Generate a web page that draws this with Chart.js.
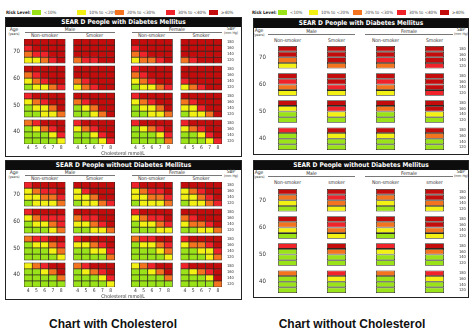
<!DOCTYPE html>
<html>
<head>
<meta charset="utf-8">
<title>SEAR D risk charts</title>
<script src="https://cdn.jsdelivr.net/npm/chart.js@4.4.1/dist/chart.umd.min.js"></script>
<style>
  html, body { margin: 0; padding: 0; background: #fff; }
  body {
    position: relative; width: 474px; height: 335px; overflow: hidden;
    font-family: "Liberation Sans Narrow", "DejaVu Sans Condensed", "Liberation Sans", Arial, sans-serif;
    color: #333;
  }
  .box { position: absolute; border: 1px solid #222; box-sizing: border-box; }
  .hdr {
    position: absolute; left: 0; right: 0; top: 0; height: 9px; background: #0d0d0d; color: #fff;
    font-weight: bold; font-size: 6.5px; line-height: 9px; text-align: center; white-space: nowrap;
  }
  .lbl { position: absolute; font-size: 5px; line-height: 5px; white-space: nowrap; text-align: center; }
  .sex {
    position: absolute; height: 5px; border-bottom: 1px solid #777; font-size: 5px; line-height: 5px;
    text-align: center; white-space: nowrap;
  }
  .legend { position: absolute; font-size: 4.5px; line-height: 7px; white-space: nowrap; color: #444; }
  .sw { position: absolute; height: 5px; }
  .cap {
    position: absolute; top: 317px; font-family: "Liberation Sans", Arial, sans-serif; font-weight: bold;
    font-size: 12px; color: #111; white-space: nowrap; transform: translateX(-50%);
  }
  canvas { position: absolute; }
</style>
</head>
<body>
<div class="cap" style="left:113px">Chart with Cholesterol</div>
<div class="cap" style="left:352px">Chart without Cholesterol</div>
<script>
// Datos
const ageGroups = ["70", "60", "50", "40"];
const sbpLevels = ["180", "160", "140", "120"];
const cholesterolLevels = ["4", "5", "6", "7", "8"];
const sexes = ["Male", "Female"];
const riskLevels = ["<10%", "10% to <20%", "20% to <30%", "30% to <40%", "\u226540%"];
const riskColors = ["#9be319", "#f3f014", "#f3731f", "#f0232a", "#c40c0c"];

// Con colesterol: por edad (70..40), filas PAS 180..120, un dígito por columna de colesterol = nivel de riesgo
const cholDiabMaleNonSmoker = [
  ["44444", "34444", "23344", "11234"],
  ["44444", "23444", "12344", "01123"],
  ["34444", "12344", "01124", "00112"],
  ["23444", "01234", "00013", "00001"],
];
const cholDiabMaleSmoker = [
  ["44444", "44444", "44444", "23344"],
  ["44444", "44444", "23444", "12344"],
  ["44444", "23444", "01244", "00124"],
  ["34444", "12344", "00134", "00013"],
];
const cholDiabFemaleNonSmoker = [
  ["44444", "34444", "23444", "12234"],
  ["34444", "23444", "12344", "01123"],
  ["34444", "12344", "01124", "00112"],
  ["34444", "01234", "00013", "00002"],
];
const cholDiabFemaleSmoker = [
  ["44444", "44444", "44444", "23444"],
  ["44444", "44444", "34444", "12344"],
  ["44444", "23444", "11344", "01124"],
  ["34444", "12344", "00134", "00013"],
];
const cholNoDiabMaleNonSmoker = [
  ["34444", "12334", "11223", "01112"],
  ["34444", "12333", "01123", "00012"],
  ["23344", "01123", "00012", "00001"],
  ["12344", "00124", "00002", "00000"],
];
const cholNoDiabMaleSmoker = [
  ["44444", "13444", "11244", "01123"],
  ["44444", "23344", "11234", "00112"],
  ["34444", "11234", "00113", "00002"],
  ["23444", "01234", "00013", "00001"],
];
const cholNoDiabFemaleNonSmoker = [
  ["34444", "12334", "11223", "01112"],
  ["34444", "12334", "01123", "00011"],
  ["23344", "01123", "00012", "00001"],
  ["12344", "00124", "00002", "00000"],
];
const cholNoDiabFemaleSmoker = [
  ["44444", "12344", "11234", "01123"],
  ["44444", "23444", "12234", "00112"],
  ["34444", "12234", "00113", "00012"],
  ["34444", "01234", "00014", "00002"],
];

// Sin colesterol: por edad (70..40), un dígito por fila de PAS (180..120)
const diabMaleNonSmoker = [["4421"], ["4321"], ["4100"], ["3000"]];
const diabMaleSmoker = [["4442"], ["4431"], ["4310"], ["4100"]];
const diabFemaleNonSmoker = [["4432"], ["4321"], ["4200"], ["4100"]];
const diabFemaleSmoker = [["4443"], ["4443"], ["4410"], ["4200"]];
const noDiabMaleNonSmoker = [["4210"], ["4210"], ["3000"], ["2000"]];
const noDiabMaleSmoker = [["4321"], ["4321"], ["4200"], ["3100"]];
const noDiabFemaleNonSmoker = [["4210"], ["4210"], ["3100"], ["2000"]];
const noDiabFemaleSmoker = [["4421"], ["4421"], ["4200"], ["3100"]];

const FONT = "'Liberation Sans Narrow', 'DejaVu Sans Condensed', 'Liberation Sans', sans-serif";

function addDiv(cls, x, y, w, text, extra) {
  const d = document.createElement("div");
  d.className = cls;
  d.style.left = x + "px";
  d.style.top = y + "px";
  if (w) d.style.width = w + "px";
  if (text) d.textContent = text;
  if (extra) Object.assign(d.style, extra);
  document.body.appendChild(d);
  return d;
}

function buildLegend(x0, swatchX) {
  addDiv("legend", x0, 9, 0, "Risk Level:", { fontWeight: "bold", color: "#222" });
  riskLevels.forEach((lvl, i) => {
    addDiv("sw", swatchX[i], 10, 9, "", { background: riskColors[i] });
    addDiv("legend", swatchX[i] + 12, 9, 0, lvl);
  });
}

function buildPanel(p) {
  const box = addDiv("box", p.x, p.y, p.w, "", { height: p.h + "px" });
  const hdr = document.createElement("div");
  hdr.className = "hdr";
  hdr.textContent = p.title;
  box.appendChild(hdr);

  addDiv("lbl", p.ageX - 15, p.y + 10, 30, "Age");
  addDiv("lbl", p.ageX - 15, p.y + 15, 30, "(years)", { fontSize: "3.5px" });
  addDiv("lbl", p.sbpX - 15, p.y + 9, 30, "SBP");
  addDiv("lbl", p.sbpX - 15, p.y + 14, 30, "(mm Hg)", { fontSize: "3.5px" });
  p.sexSpans.forEach((s, i) => addDiv("sex", s[0], p.y + p.sexY, s[1] - s[0], sexes[i]));
  p.groupX.forEach((cx, i) => addDiv("lbl", cx - 25, p.y + p.groupY, 50, p.groupLabels[i]));
}

// eje Y con ticks fijos (centros de bloque o de fila)
function fixedAxis(position, values, names, width, size, max, pad, mirror) {
  return {
    type: "linear",
    position,
    min: 0,
    max,
    bounds: "data",
    grid: { display: false, drawTicks: false },
    border: { display: false },
    afterBuildTicks: (s) => {
      s.ticks = values.map((v) => ({ value: v }));
    },
    ticks: {
      autoSkip: false,
      mirror: !!mirror,
      padding: pad,
      color: "#333",
      font: { family: FONT, size },
      callback: (v, i) => names[i],
    },
    afterFit: (s) => {
      s.width = width;
      s.paddingTop = 0;
      s.paddingBottom = 0;
    },
  };
}

function makeGridChart(cfg) {
  const canvas = document.createElement("canvas");
  canvas.width = cfg.w;
  canvas.height = cfg.h;
  canvas.style.left = cfg.x + "px";
  canvas.style.top = cfg.y + "px";
  document.body.appendChild(canvas);

  const nAges = ageGroups.length;
  const nRows = sbpLevels.length;
  const blockH = nRows + cfg.gap;
  const yMax = nAges * nRows + (nAges - 1) * cfg.gap;

  // columnas: grupos separados por columnas vacías
  const labels = [];
  const starts = [];
  cfg.groups.forEach((g, gi) => {
    for (let i = 0; i < cfg.spacers[gi]; i++) labels.push("");
    starts.push(labels.length);
    cfg.colLabels.forEach((l) => labels.push(l));
  });

  const datasets = [];
  ageGroups.forEach((age, a) => {
    sbpLevels.forEach((sbp, r) => {
      const lo = (nAges - 1 - a) * blockH + (nRows - 1 - r);
      const data = labels.map(() => null);
      const colors = labels.map(() => "rgba(0,0,0,0)");
      cfg.groups.forEach((g, gi) => {
        const row = g[a].length === 1 ? g[a][0][r] : g[a][r];
        [...row].forEach((lvl, k) => {
          data[starts[gi] + k] = [lo, lo + 1];
          colors[starts[gi] + k] = riskColors[+lvl];
        });
      });
      datasets.push({
        label: age + " / " + sbp,
        data,
        backgroundColor: colors,
        borderColor: "#2a2a22",
        borderWidth: cfg.border,
        borderSkipped: false,
        grouped: false,
        barPercentage: 1,
        categoryPercentage: cfg.catPct,
      });
    });
  });

  const ageTicks = ageGroups.map((_, a) => (nAges - 1 - a) * blockH + nRows / 2);
  const sbpTicks = [];
  const sbpNames = [];
  ageGroups.forEach((_, a) =>
    sbpLevels.forEach((s, r) => {
      sbpTicks.push((nAges - 1 - a) * blockH + (nRows - 1 - r) + 0.5);
      sbpNames.push(s);
    })
  );

  return new Chart(canvas, {
    type: "bar",
    data: { labels, datasets },
    options: {
      responsive: false,
      animation: false,
      events: [],
      layout: { padding: 0 },
      plugins: { legend: { display: false }, tooltip: { enabled: false } },
      scales: {
        x: {
          display: cfg.showX,
          grid: { display: false, drawTicks: false },
          border: { display: false },
          ticks: { autoSkip: false, maxRotation: 0, padding: 1, color: "#333", font: { family: FONT, size: 5 } },
          title: { display: true, text: "Cholesterol mmol/L", padding: 0, color: "#333", font: { family: FONT, size: 5 } },
          afterFit: (s) => {
            s.height = cfg.xAxisH;
            s.paddingLeft = 0;
            s.paddingRight = 0;
          },
        },
        y: fixedAxis("left", ageTicks, ageGroups, cfg.leftW, 6, yMax, cfg.agePad, cfg.ageMirror),
        sbp: fixedAxis("right", sbpTicks, sbpNames, cfg.rightW, 4, yMax, cfg.sbpPad),
      },
    },
  });
}

const smokeLabels = ["Non-smoker", "Smoker", "Non-smoker", "Smoker"];

// Panel izquierdo: con colesterol
[
  { dy: 0, title: "SEAR D People with Diabetes Mellitus",
    groups: [cholDiabMaleNonSmoker, cholDiabMaleSmoker, cholDiabFemaleNonSmoker, cholDiabFemaleSmoker] },
  { dy: 143, title: "SEAR D People without Diabetes Mellitus",
    groups: [cholNoDiabMaleNonSmoker, cholNoDiabMaleSmoker, cholNoDiabFemaleNonSmoker, cholNoDiabFemaleSmoker] },
].forEach((s) => {
  buildPanel({
    x: 5, y: 17 + s.dy, w: 237, h: 140, title: s.title, ageX: 14, sbpX: 231,
    sexSpans: [[25, 115], [132, 222]], sexY: 10, groupX: [44.5, 94.5, 151.5, 201], groupY: 16,
    groupLabels: smokeLabels,
  });
  makeGridChart({
    x: 5, y: 39 + s.dy, w: 237, h: 118, leftW: 19, rightW: 20, xAxisH: 13, showX: true,
    gap: 0.45, groups: s.groups, spacers: [0, 1, 2, 1], colLabels: cholesterolLevels,
    catPct: 1, border: 0.7, agePad: 4, sbpPad: 5,
  });
});

// Panel derecho: sin colesterol
[
  { dy: 0, title: "SEAR D People with Diabetes Mellitus", h: 137, labels: smokeLabels,
    groups: [diabMaleNonSmoker, diabMaleSmoker, diabFemaleNonSmoker, diabFemaleSmoker] },
  { dy: 142, title: "SEAR D People without Diabetes Mellitus", h: 138,
    labels: ["Non-smoker", "smoker", "Non-smoker", "smoker"],
    groups: [noDiabMaleNonSmoker, noDiabMaleSmoker, noDiabFemaleNonSmoker, noDiabFemaleSmoker] },
].forEach((s) => {
  buildPanel({
    x: 253, y: 18 + s.dy, w: 216, h: s.h, title: s.title, ageX: 259, sbpX: 461,
    sexSpans: [[268, 355], [365, 453]], sexY: 11, groupX: [287.5, 336.5, 385.5, 434.5], groupY: 20,
    groupLabels: s.labels,
  });
  makeGridChart({
    x: 253, y: 46 + s.dy + (s.dy ? 1 : 0), w: 216, h: 104, leftW: 10, rightW: 10, xAxisH: 0, showX: false,
    gap: 0.8, groups: s.groups, spacers: [0, 0, 0, 0], colLabels: [""],
    catPct: 0.39, border: 0.8, agePad: -4, ageMirror: true, sbpPad: 0,
  });
});

buildLegend(6, [32, 77, 115, 166, 209]);
buildLegend(252, [278, 309, 353, 397, 440]);
</script>
</body>
</html>
